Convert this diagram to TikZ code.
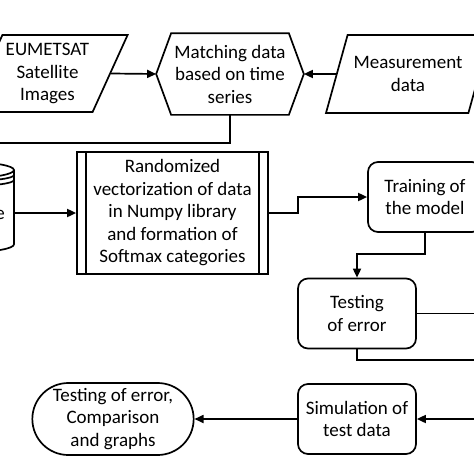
\documentclass[tikz,border=0pt]{standalone}
\usepackage{fontspec}
\setmainfont{Carlito}
\usepackage{tikz}
\usetikzlibrary{shapes,arrows.meta,positioning}

\begin{document}
\begin{tikzpicture}[x=1pt,y=-1pt,line width=1.7pt,>={Triangle[length=9pt,width=8pt]},
    font=\fontsize{19}{22.5}\selectfont,
    every node/.style={align=center},
    io/.style={draw, trapezium, trapezium left angle=62.5, trapezium right angle=117.5, trapezium stretches body},
    proc/.style={draw, rounded corners=10pt, minimum width=118pt, minimum height=70pt}]
    \useasboundingbox (0,0) rectangle (474,474);
    \clip (0,0) rectangle (474,474);
    \node[io, minimum width=151pt, minimum height=77pt]  (eum)   at (47.5,73.5) {EUMETSAT\\Satellite\\Images};
    \node[minimum width=146pt, minimum height=80pt]      (match) at (230,74)    {Matching data\\based on time\\series};
    \draw (match.west) -- ([xshift=15pt]match.north west) -- ([xshift=-15pt]match.north east)
       -- (match.east) -- ([xshift=-15pt]match.south east) -- ([xshift=15pt]match.south west) -- cycle;
    \node[io, minimum width=164pt, minimum height=78pt]  (meas)  at (408,74)    {Measurement\\data};
    \node[draw, cylinder, shape border rotate=90, aspect=0.2,
          minimum width=90pt, minimum height=90pt]       (db)    at (-31,213)   {Database};
    \draw (-76,175) arc[start angle=180, end angle=360, x radius=45pt, y radius=6pt];
    \draw (-76,180) arc[start angle=180, end angle=360, x radius=45pt, y radius=6pt];
    \node[draw, minimum width=191pt, minimum height=122pt] (rand) at (172.5,213)
        {Randomized\\vectorization of data\\in Numpy library\\and formation of\\Softmax categories};
    \draw ([xshift=10pt]rand.north west) -- ([xshift=10pt]rand.south west);
    \draw ([xshift=-10pt]rand.north east) -- ([xshift=-10pt]rand.south east);
    \node[proc, minimum width=114pt] (train) at (425,197)   {Training of\\the model};
    \node[proc]                      (test)  at (357,313.5) {Testing\\of error};
    \node[proc]                      (sim)   at (357,419)   {Simulation of\\test data};
    \node[draw, rounded rectangle, minimum width=168pt, minimum height=72pt] (res) at (113,419)
        {Testing of error,\\Comparison\\and graphs};
    % free ends leaving the picture on the right
    \coordinate (r1) at (520,313.5);
    \coordinate (r2) at (520,360);
    \coordinate (r3) at (520,419);
    \coordinate (r4) at (520,74);
    \draw[->] (eum.east) -- (match.west);
    \draw[->] (meas.west) -- (match.east);
    \draw[->] (r4) -- (meas.east);
    \draw[->] (match.south) -- ++(0,28) -| (db.north);
    \draw[->] (db.east) -- (rand.west);
    \draw[->] (rand.east) -- ++(29,0) |- (train.west);
    \draw[->] (train.south) -- ++(0,21) -| (test.north);
    \draw (test.east) -- (r1);
    \draw (test.south) |- (r2);
    \draw[->] (r3) -- (sim.east);
    \draw[->] (sim.west) -- (res.east);
\end{tikzpicture}
\end{document}
